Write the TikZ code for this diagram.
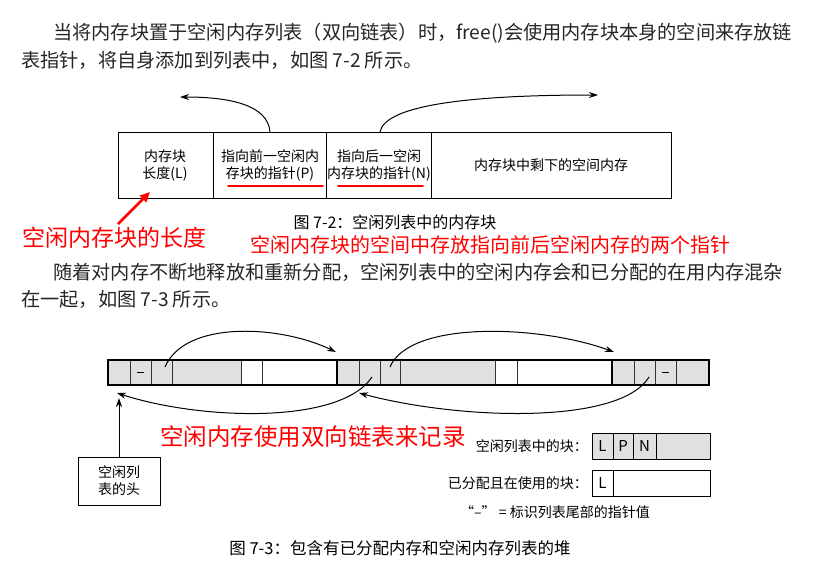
\documentclass[tikz,border=0pt]{standalone}
\usepackage{fontspec}
\setmainfont{Noto Sans CJK SC}
\usetikzlibrary{arrows.meta}
\begin{document}
\begin{tikzpicture}[x=1pt,y=-1pt,
  cellg/.style={draw=black!80,fill=black!12,line width=0.6pt},
  cellw/.style={draw=black!80,fill=white,line width=0.6pt},
  ptr/.style={line width=1pt,-{Stealth[length=9pt,width=6pt]}},
  redtxt/.style={text=red,anchor=west,inner sep=0},
  body/.style={anchor=west,inner sep=0,font=\fontsize{19.2}{21}\selectfont,text=black!85},
  small/.style={font=\fontsize{14}{17}\selectfont,align=center,inner sep=0}]
\useasboundingbox[fill=white] (0,0) rectangle (816,570);
% top paragraph
\node[body] (p1) at (53,33) {当将内存块置于空闲内存列表（双向链表）时，free()会使用内存块本身的空间来存放链};
\node[body] (p2) at (21,60) {表指针，将自身添加到列表中，如图 7-2 所示。};
% fig 7-2
\draw[line width=0.8pt] (118,132) rectangle (671,198);
\draw[line width=0.6pt] (213,132)--(213,198) (326,132)--(326,198) (431,132)--(431,198);
\node[small] (c1) at (165,165) {内存块\\长度(L)};
\node[small] (c2) at (270,165) {指向前一空闲内\\存块的指针(P)};
\node[small] (c3) at (379,165) {指向后一空闲\\内存块的指针(N)};
\node[small] (c4) at (551,165) {内存块中剩下的空间内存};
\coordinate (a1s) at (270,132); \coordinate (a1e) at (180,97);
\coordinate (a2s) at (380,132); \coordinate (a2e) at (598,95);
\draw[ptr] (a1s) .. controls (268,105) and (230,97) .. (a1e);
\draw[ptr] (a2s) .. controls (385,105) and (470,95) .. (a2e);
\draw[red,line width=1.5pt,line cap=round] (228,186)--(323,186) (338,186)--(423,186);
\draw[red,line width=2.5pt,-{Triangle[length=10pt,width=9pt]}] (118,224)--(150,192);
\node[inner sep=0,font=\fontsize{16}{18}\selectfont] (cap2) at (395,222) {图 7-2：空闲列表中的内存块};
\node[redtxt,font=\fontsize{23}{25}\selectfont] (r1) at (22,238) {空闲内存块的长度};
\node[redtxt,font=\fontsize{20}{22}\selectfont] (r2) at (250,245) {空闲内存块的空间中存放指向前后空闲内存的两个指针};
% paragraph 2
\node[body] (p3) at (53,272) {随着对内存不断地释放和重新分配，空闲列表中的空闲内存会和已分配的在用内存混杂};
\node[body] (p4) at (21,299) {在一起，如图 7-3 所示。};
% heap bar
\foreach \a/\b/\s in {108/130/cellg,130/151/cellg,151/172/cellg,172/241/cellg,241/262/cellw,262/337/cellw,337/359/cellg,359/380/cellg,380/400/cellg,400/495/cellg,495/517/cellw,517/612/cellw,612/634/cellg,634/655/cellg,655/676/cellg,676/709/cellg}
  \draw[\s] (\a,360) rectangle (\b,385);
\draw[line width=1.2pt] (108,360) rectangle (709,385);
\draw[line width=1.2pt] (337,360)--(337,385) (612,360)--(612,385);
\draw[line width=0.5pt] (137,372)--(144,372) (662,372)--(669,372);
\coordinate (h1s) at (165,367); \coordinate (h1e) at (336,352);
\coordinate (h2s) at (390,367); \coordinate (h2e) at (614,352);
\coordinate (h3s) at (372,377); \coordinate (h3e) at (117,393);
\coordinate (h4s) at (649,377); \coordinate (h4e) at (359,393);
\draw[ptr] (h1s) .. controls (185,320) and (280,325) .. (h1e);
\draw[ptr] (h2s) .. controls (410,320) and (540,325) .. (h2e);
\draw[ptr] (h3s) .. controls (340,425) and (200,420) .. (h3e);
\draw[ptr] (h4s) .. controls (620,425) and (460,420) .. (h4e);
% head
\node[draw,line width=1pt,minimum width=82pt,minimum height=48pt,small] (head) at (119,481) {空闲列\\表的头};
\coordinate (headtip) at (119,398);
\draw[ptr] (head.north) -- (headtip);
\node[redtxt,font=\fontsize{23.5}{25}\selectfont] (r3) at (160,437) {空闲内存使用双向链表来记录};
% legend
\node[small,anchor=east] (l1) at (588,446) {空闲列表中的块：};
\draw[cellg] (592,433) rectangle (710,459);
\draw[line width=1pt] (592,433) rectangle (710,459);
\draw[line width=0.6pt] (613,433)--(613,459) (633,433)--(633,459) (656,433)--(656,459);
\node[font=\fontsize{15}{17}\selectfont\rmfamily] (lL) at (602.5,446) {L};
\node[font=\fontsize{15}{17}\selectfont\rmfamily] (lP) at (623,446) {P};
\node[font=\fontsize{15}{17}\selectfont\rmfamily] (lN) at (644.5,446) {N};
\node[small,anchor=east] (l2) at (588,483) {已分配且在使用的块：};
\draw[line width=1pt,fill=white] (592,470) rectangle (710,496);
\draw[line width=0.6pt] (613,470)--(613,496);
\node[font=\fontsize{15}{17}\selectfont\rmfamily] (lL2) at (602.5,483) {L};
\node[small] (l3) at (555,512) {“–” = 标识列表尾部的指针值};
\node[inner sep=0,font=\fontsize{16.5}{18}\selectfont] (cap3) at (400,548) {图 7-3：包含有已分配内存和空闲内存列表的堆};
\end{tikzpicture}
\end{document}
